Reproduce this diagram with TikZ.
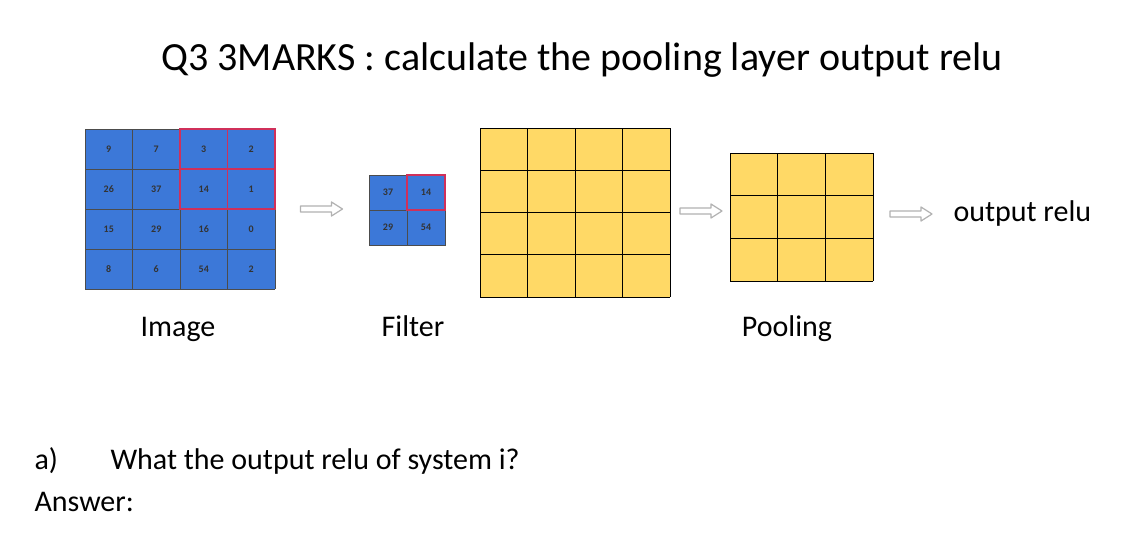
\documentclass[tikz,border=0pt]{standalone}
\usepackage{fontspec}
\setmainfont{Carlito}
\definecolor{cblue}{HTML}{3C78D8}
\definecolor{cyel}{HTML}{FFD966}
\definecolor{cred}{HTML}{D0305A}
\begin{document}
\begin{tikzpicture}[x=1pt,y=-1pt,
  num/.style={font=\fontsize{10}{10}\selectfont\bfseries,text=black!80},
  lab/.style={font=\fontsize{30}{30}\selectfont,anchor=base},
  arr/.style={draw=gray!60,fill=white,line width=1.2pt,line join=round}]
\useasboundingbox[fill=white] (0,0) rectangle (1147,555);
\newcommand{\harrow}[2]{\draw[arr] (#1-21,#2-3) -- (#1+10,#2-3) -- (#1+10,#2-7) -- (#1+21,#2) -- (#1+10,#2+7) -- (#1+10,#2+3) -- (#1-21,#2+3) -- cycle;}
\node[font=\fontsize{40}{40}\selectfont,anchor=base] (title) at (582,70) {Q3 3MARKS : calculate the pooling layer output relu};
% image grid
\fill[cblue] (85,129) rectangle (275,289);
\foreach \x in {85,132.5,180,227.5,275} \draw[black!70,line width=1pt] (\x,129) -- (\x,289);
\foreach \y in {129,169,209,249,289} \draw[black!70,line width=1pt] (85,\y) -- (275,\y);
\draw[cred,line width=1.2pt] (180,129) rectangle (275,209) (227.5,129) -- (227.5,209) (180,169) -- (275,169);
\foreach \r/\vals in {0/{9,7,3,2},1/{26,37,14,1},2/{15,29,16,0},3/{8,6,54,2}}{
  \foreach \v [count=\c from 0] in \vals
    \node[num] (i\r\c) at (108.75+47.5*\c,149+40*\r) {\v};
}
\harrow{321.5}{209}
% filter
\fill[cblue] (369,175) rectangle (445,245);
\draw[black!70,line width=1pt] (369,175) rectangle (445,245) (407,175) -- (407,245) (369,210) -- (445,210);
\draw[cred,line width=1.2pt] (407,175) rectangle (445,210);
\node[num] (f1) at (388,192.5) {37};
\node[num] (f2) at (426,192.5) {14};
\node[num] (f3) at (388,227.5) {29};
\node[num] (f4) at (426,227.5) {54};
% yellow 4x4
\fill[cyel] (480,128) rectangle (670,297);
\foreach \x in {480,527.5,575,622.5,670} \draw[black,line width=1pt] (\x,128) -- (\x,297);
\foreach \y in {128,170.25,212.5,254.75,297} \draw[black,line width=1pt] (480,\y) -- (670,\y);
\harrow{701}{211}
% pooling 3x3
\fill[cyel] (730,153) rectangle (873,281);
\foreach \x in {730,777.67,825.33,873} \draw[black,line width=1pt] (\x,153) -- (\x,281);
\foreach \y in {153,195.67,238.33,281} \draw[black,line width=1pt] (730,\y) -- (873,\y);
\harrow{911}{214}
\node[lab,anchor=base west] (out) at (950,221) {output relu};
\node[lab] (limg) at (178,336) {Image};
\node[lab] (lfil) at (413,336) {Filter};
\node[lab] (lpool) at (787,336) {Pooling};
\node[lab,anchor=base west] (qa) at (31,469) {a)};
\node[lab,anchor=base west] (qt) at (107,469) {What the output relu of system i?};
\node[lab,anchor=base west] (ans) at (31,511) {Answer:};
\end{tikzpicture}
\end{document}
